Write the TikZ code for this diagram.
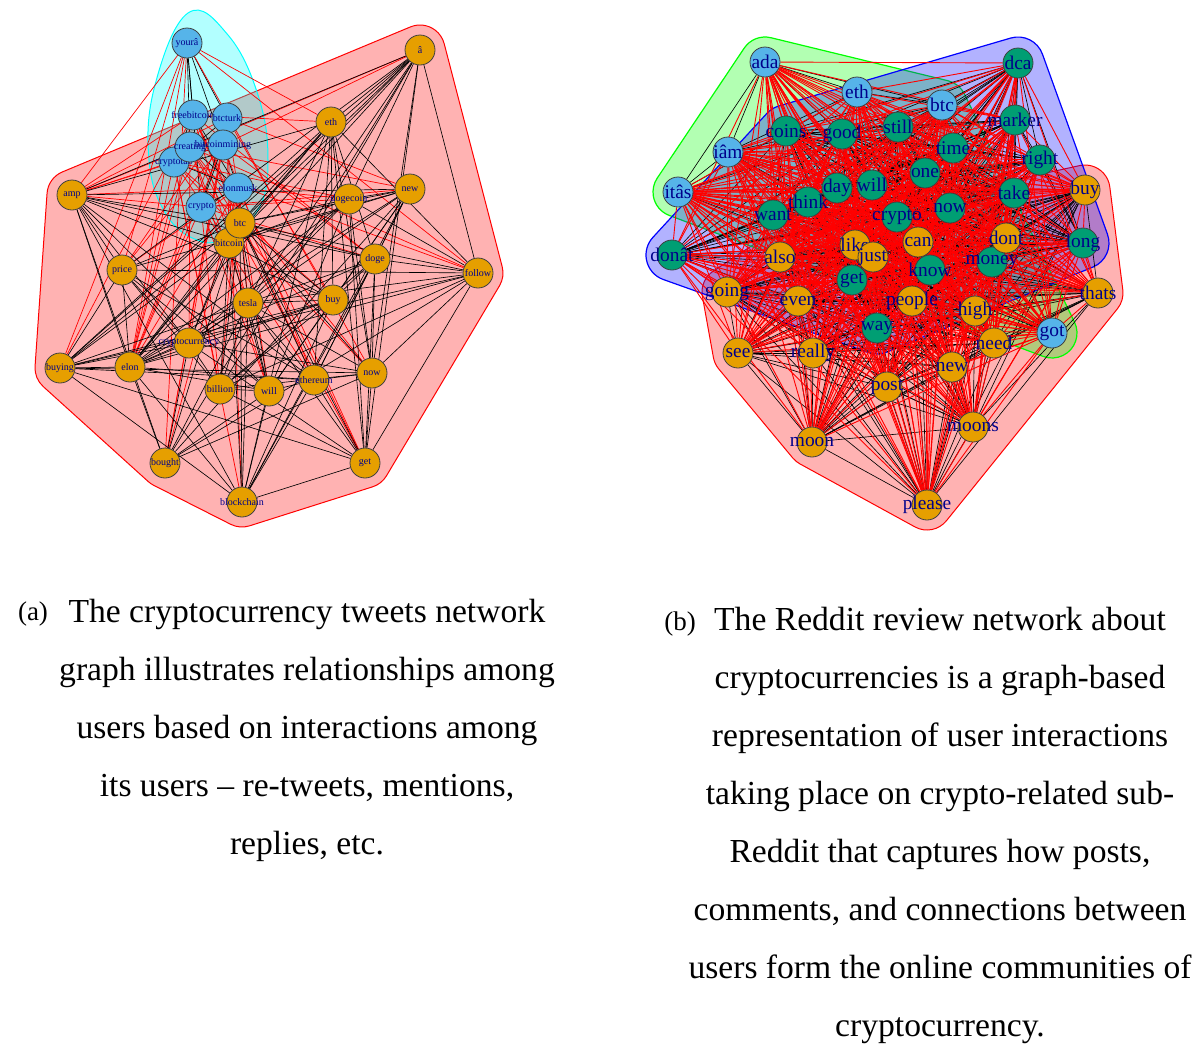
\documentclass[tikz,border=0pt]{standalone}
\usepackage{fontspec}
\setmainfont{Liberation Serif}
\pgfdeclarelayer{hulls}
\pgfdeclarelayer{edges}
\pgfsetlayers{hulls,edges,main}
\definecolor{corange}{HTML}{E69F00}
\definecolor{cblue}{HTML}{56B4E9}
\definecolor{cgreen}{HTML}{009E73}
\definecolor{lbl}{rgb}{0,0,0.545}
\definecolor{hred}{rgb}{1,0,0}
\definecolor{hgreen}{rgb}{0,1,0}
\definecolor{hblue}{rgb}{0,0,1}
\definecolor{hcyan}{rgb}{0,1,1}
\tikzset{
  vert/.style={circle, draw=black!75, line width=0.4pt, minimum size=15pt, inner sep=0pt, text=lbl},
  vA/.style={vert, font=\fontsize{5}{6}\selectfont},
  vB/.style={vert, font=\fontsize{9.7}{11}\selectfont},
  cA1/.style={fill=corange}, cA2/.style={fill=cblue},
  cB1/.style={fill=cblue}, cB2/.style={fill=cgreen}, cB3/.style={fill=corange},
  edgeK/.style={draw=black, line width=0.32pt},
  edgeR/.style={draw=hred, line width=0.35pt},
  edgeRB/.style={draw=hred, line width=0.45pt},
  hullR/.style={draw=hred, fill=hred, fill opacity=0.3, line width=0.5pt},
  hullC/.style={draw=hcyan, fill=hcyan, fill opacity=0.3, line width=0.5pt},
  hullG/.style={draw=hgreen, fill=hgreen, fill opacity=0.3, line width=0.6pt},
  hullB/.style={draw=hblue, fill=hblue, fill opacity=0.3, line width=0.6pt},
  capt/.style={align=center, inner sep=0pt, anchor=north, font=\fontsize{16.8}{29}\selectfont},
  tag/.style={inner sep=0pt, anchor=base, font=\fontsize{13.5}{16}\selectfont}
}
\def\listA{youra/2,freebitcoin/2,btcturk/2,creating/2,bitcoinmining/2,cryptotab/2,elonmusk/2,crypto/2,btc/1,bitcoin/1,ae/1,eth/1,amp/1,dogecoin/1,new/1,doge/1,follow/1,price/1,tesla/1,buy/1,cryptocurrency/1,buying/1,elon/1,billion/1,will/1,ethereum/1,now/1,bought/1,get/1,blockchain/1}
\def\listB{ada/1,eth/1,btc/1,iam/1,its/1,got/1,dca/2,marker/2,right/2,coins/2,good/2,still/2,time/2,one/2,day/2,will/2,think/2,want/2,crypto/2,now/2,take/2,long/2,money/2,get/2,know/2,way/2,donat/2,buy/3,thats/3,also/3,like/3,just/3,can/3,dont/3,going/3,even/3,people/3,high/3,need/3,see/3,really/3,new/3,post/3,moons/3,moon/3,please/3}
\begin{document}
\begin{tikzpicture}[x=0.5pt,y=-0.5pt]
\useasboundingbox (0,0) rectangle (1200,1046);
\begin{pgfonlayer}{hulls}
% ---------- graph (a) : hulls ----------
\path[hullR] ([shift={(184:25)}]72,195) arc[start angle=184,end angle=247.4,radius=25]
  -- ([shift={(247.4:25)}]420,50) arc[start angle=247.4,end angle=345.4,radius=25]
  -- ([shift={(345.4:25)}]478,273) arc[start angle=345.4,end angle=390.7,radius=25]
  -- ([shift={(30.7:25)}]365,463) arc[start angle=30.7,end angle=72.4,radius=25]
  -- ([shift={(72.4:25)}]242,502) arc[start angle=72.4,end angle=116.9,radius=25]
  -- ([shift={(116.9:25)}]165,463) arc[start angle=116.9,end angle=132.1,radius=25]
  -- ([shift={(132.1:25)}]60,368) arc[start angle=132.1,end angle=184,radius=25]
  -- cycle;
\path[hullC] plot[smooth cycle, tension=0.7] coordinates {(188,13) (228,35) (258,95) (268,160) (258,210) (225,238) (197,240) (166,214) (149,160) (155,85)};
% ---------- graph (b) : hulls ----------
\path[hullR] ([shift={(169.8:25)}]727,292) arc[start angle=169.8,end angle=236.6,radius=25]
  -- ([shift={(236.6:25)}]780,257) arc[start angle=236.6,end angle=257.6,radius=25]
  -- ([shift={(257.6:25)}]1085,190) arc[start angle=257.6,end angle=352.8,radius=25]
  -- ([shift={(352.8:25)}]1098,293) arc[start angle=352.8,end angle=398.9,radius=25]
  -- ([shift={(38.9:25)}]927,505) arc[start angle=38.9,end angle=118.7,radius=25]
  -- ([shift={(118.7:25)}]812,442) arc[start angle=118.7,end angle=140.2,radius=25]
  -- ([shift={(140.2:25)}]738,353) arc[start angle=140.2,end angle=169.8,radius=25]
  -- cycle;
\path[hullG] ([shift={(213.7:25)}]765,62) arc[start angle=213.7,end angle=283.7,radius=25]
  -- ([shift={(283.7:25)}]942,105) arc[start angle=283.7,end angle=334.2,radius=25]
  -- ([shift={(334.2:25)}]1052,333) arc[start angle=334.2,end angle=470.6,radius=25]
  -- ([shift={(110.6:25)}]678,192) arc[start angle=110.6,end angle=213.7,radius=25]
  -- cycle;
\path[hullB] ([shift={(222.6:26)}]786,131) arc[start angle=222.6,end angle=253.7,radius=26]
  -- ([shift={(253.7:26)}]1018,63) arc[start angle=253.7,end angle=340.1,radius=26]
  -- ([shift={(340.1:26)}]1083,243) arc[start angle=340.1,end angle=427.6,radius=26]
  -- ([shift={(67.6:26)}]877,328) arc[start angle=67.6,end angle=109.6,radius=26]
  -- ([shift={(109.6:26)}]672,255) arc[start angle=109.6,end angle=222.6,radius=26]
  -- cycle;
\end{pgfonlayer}
% ---------- graph (a) : vertices ----------
\foreach \n/\x/\y/\g/\t in {
  youra/187/43/2/yourâ, cryptotab/174/162/2/cryptotab, freebitcoin/193/115/2/freebitcoin, btcturk/227/118/2/btcturk,
  creating/190/147/2/creating, bitcoinmining/223/145/2/bitcoinmining, elonmusk/238/188/2/elonmusk, crypto/201/207/2/crypto,
  bitcoin/229/243/1/bitcoin, btc/240/223/1/btc, ae/420/50/1/â, eth/331/122/1/eth, amp/72/195/1/amp,
  dogecoin/349/199/1/dogecoin, new/410/189/1/new, doge/375/259/1/doge, follow/478/273/1/follow,
  price/122/270/1/price, tesla/248/303/1/tesla, buy/333/300/1/buy, cryptocurrency/189/343/1/cryptocurrency,
  buying/60/368/1/buying, elon/130/367/1/elon, billion/220/389/1/billion, will/269/391/1/will,
  ethereum/314/380/1/ethereum, now/372/373/1/now, bought/165/463/1/bought, get/365/463/1/get,
  blockchain/242/502/1/blockchain}
  \node[vA, cA\g] (A\n) at (\x,\y) {\makebox[0pt]{\t}};
% ---------- graph (b) : vertices ----------
\foreach \n/\x/\y/\g/\t in {
  ada/765/62/1/ada, eth/857/92/1/eth, btc/942/105/1/btc, iam/728/152/1/iâm, its/678/192/1/itâs, got/1052/333/1/got,
  dca/1018/63/2/dca, marker/1015/120/2/marker, right/1040/160/2/right, coins/786/131/2/coins, good/842/134/2/good,
  still/898/127/2/still, time/953/148/2/time, one/925/173/2/one, day/837/188/2/day, will/872/185/2/will,
  think/808/202/2/think, want/773/215/2/want, crypto/897/217/2/crypto, now/950/208/2/now, take/1014/193/2/take,
  long/1083/243/2/long, money/992/262/2/money, get/852/280/2/get, know/930/270/2/know, way/877/328/2/way,
  donat/672/255/2/donât, buy/1085/190/3/buy, thats/1098/293/3/thats, also/780/257/3/also, like/855/245/3/like,
  just/873/257/3/just, can/918/242/3/can, dont/1006/238/3/dont, going/727/292/3/going, even/798/301/3/even,
  people/912/301/3/people, high/975/311/3/high, need/994/343/3/need, see/738/353/3/see, really/813/353/3/really,
  new/952/367/3/new, post/887/387/3/post, moons/973/427/3/moons, moon/812/442/3/moon, please/927/505/3/please}
  \node[vB, cB\g] (B\n) at (\x,\y) {\makebox[0pt]{\t}};
% ---------- edges ----------
\begin{pgfonlayer}{edges}
\foreach \n/\g [count=\i] in \listA {
  \foreach \m/\h [count=\j] in \listA {
    \ifnum\j>\i\relax
      \pgfmathtruncatemacro\r{mod(7*\i+11*\j+\i*\j,10)}
      \ifnum\g=\h\relax
        \ifnum\r<6\relax \draw[edgeK] (A\n) -- (A\m); \fi
      \else
        \ifnum\r<4\relax \draw[edgeR] (A\n) -- (A\m); \fi
      \fi
    \fi
  }
}
% (b): black (within-community) edges first, red (crossing) edges on top
\foreach \n/\g [count=\i] in \listB {
  \foreach \m/\h [count=\j] in \listB {
    \ifnum\j>\i\relax
      \ifnum\g=\h\relax \draw[edgeK] (B\n) -- (B\m); \fi
    \fi
  }
}
\foreach \n/\g [count=\i] in \listB {
  \foreach \m/\h [count=\j] in \listB {
    \ifnum\j>\i\relax
      \ifnum\g=\h\relax \else \draw[edgeRB] (B\n) -- (B\m); \fi
    \fi
  }
}
\end{pgfonlayer}
% ---------- captions ----------
\node[tag] (tagA) at (33,620) {(a)};
\node[capt] (captA) at (307,599) {The cryptocurrency tweets network\\graph illustrates relationships among\\users based on interactions among\\its users – re-tweets, mentions,\\replies, etc.};
\node[tag] (tagB) at (680,630) {(b)};
\node[capt] (captB) at (940,607) {The Reddit review network about\\cryptocurrencies is a graph-based\\representation of user interactions\\taking place on crypto-related sub-\\Reddit that captures how posts,\\comments, and connections between\\users form the online communities of\\cryptocurrency.};
\end{tikzpicture}
\end{document}
